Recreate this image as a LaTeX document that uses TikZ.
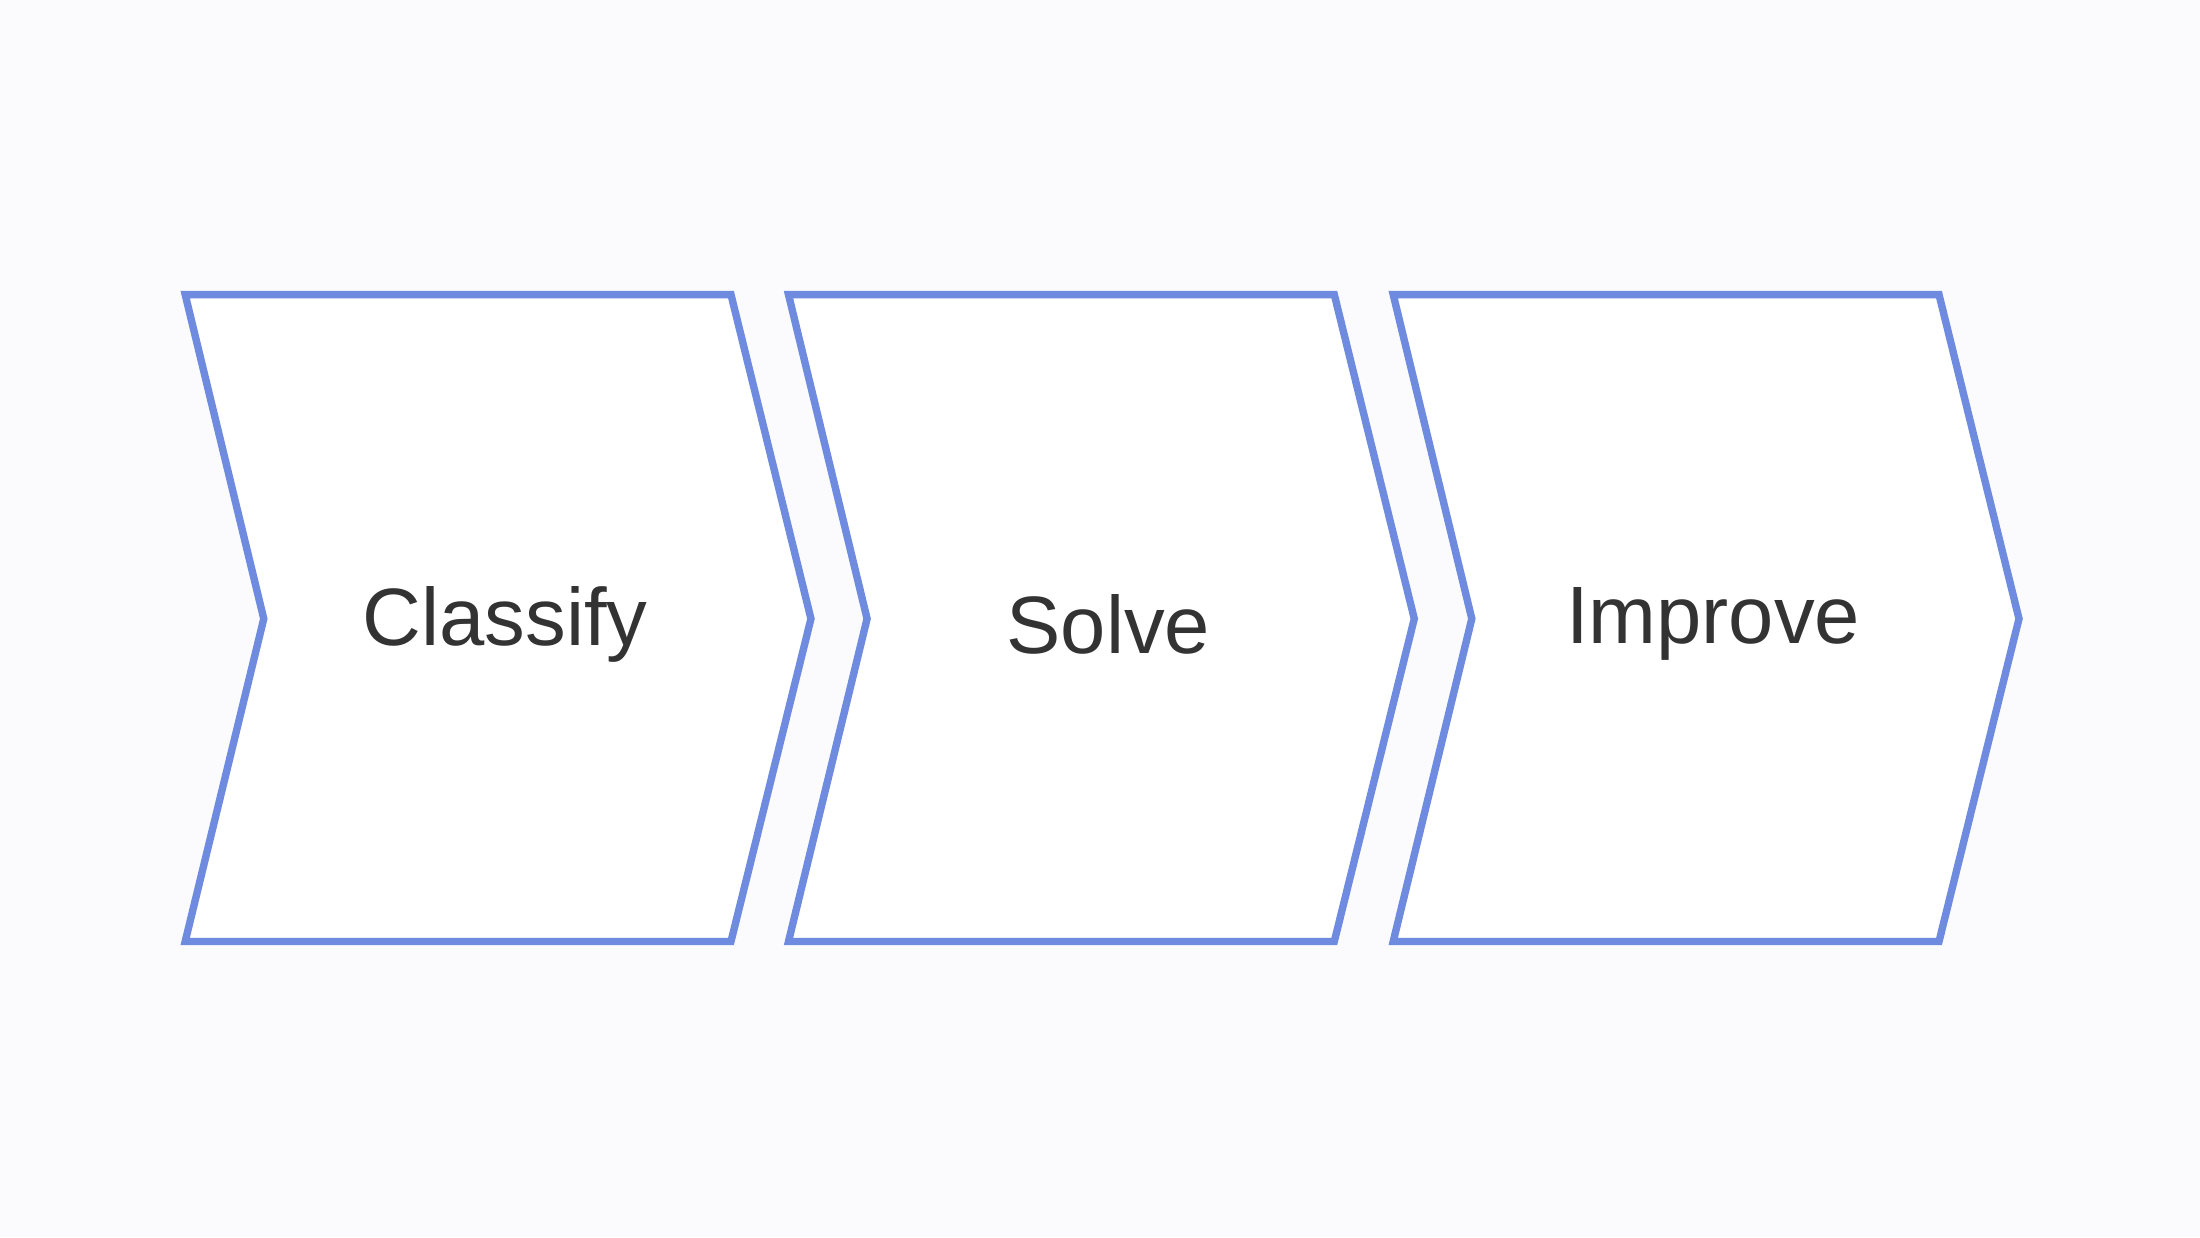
\documentclass[tikz,border=0pt]{standalone}
\usepackage{fontspec}
\setmainfont{Liberation Sans}
\definecolor{bg}{HTML}{FBFBFE}
\definecolor{edge}{HTML}{6F8BE0}
\definecolor{txt}{HTML}{333333}
\begin{document}
\begin{tikzpicture}[x=0.01cm,y=-0.01cm,
  chev/.style={draw=edge,fill=white,line width=1.5pt,line join=miter},
  lbl/.style={text=txt,font=\fontsize{16.5}{20}\selectfont}]
\fill[bg] (0,0) rectangle (1568,882);
\useasboundingbox (0,0) rectangle (1568,882);
\foreach \x/\n/\t in {132/a/Classify,562/b/Solve,993/c/Improve}{
  \draw[chev] (\x,210) -- ++(389,0) -- ++(57,231) -- ++(-57,230) -- ++(-389,0) -- ++(56,-230) -- cycle;
  \node[lbl] (\n) at (\x+228,445) {\t};
}
\end{tikzpicture}
\end{document}
